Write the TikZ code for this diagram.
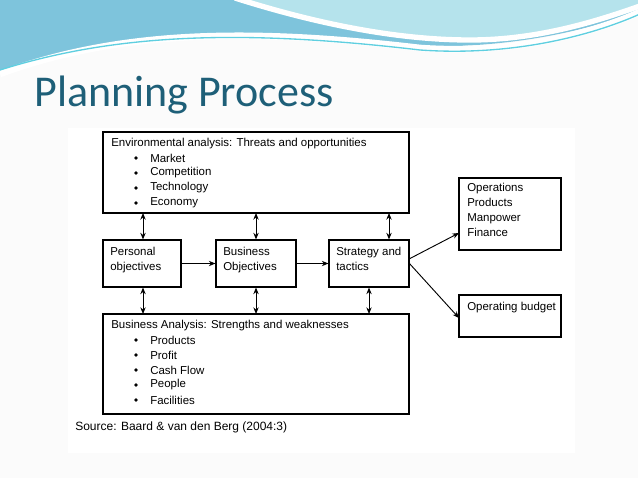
\documentclass[tikz,border=0pt]{standalone}
\usepackage{fontspec}
\setmainfont{Liberation Sans}
\newfontfamily\titlefont{Carlito}
\usetikzlibrary{arrows.meta}
\definecolor{titlec}{HTML}{1E5F78}
\definecolor{waveA}{HTML}{7EC4DC}
\definecolor{waveB}{HTML}{B5E3EC}
\definecolor{waveC}{HTML}{5FCFE0}
\tikzset{
  bx/.style={draw=black, line width=0.8pt, inner sep=0pt},
  lbl/.style={font=\fontsize{8.6pt}{11.2pt}\selectfont, anchor=north west, align=left, inner sep=0pt},
  dbl/.style={{Stealth[length=5pt,width=4pt]}-{Stealth[length=5pt,width=4pt]}, line width=0.7pt},
  sgl/.style={-{Stealth[length=5pt,width=4pt]}, line width=0.7pt}
}
\begin{document}
\begin{tikzpicture}[x=0.75pt,y=-0.75pt]
\useasboundingbox (0,0) rectangle (638,478);
\fill[white!97!gray] (0,0) rectangle (638,478);
% waves
\fill[waveA] (0,0) -- (638,0) -- (638,12) .. controls (560,40) and (480,48) .. (420,46) .. controls (300,40) and (150,20) .. (0,72) -- cycle;
\fill[waveB] (235,0) .. controls (320,25) and (400,40) .. (470,40) .. controls (540,40) and (600,20) .. (638,8) -- (638,0) -- cycle;
\draw[white, line width=4pt] (235,-2) .. controls (320,25) and (400,40) .. (470,40) .. controls (540,40) and (600,20) .. (640,6);
\draw[white, line width=5pt] (0,74) .. controls (120,30) and (250,28) .. (420,48) .. controls (520,55) and (600,30) .. (640,12);
\draw[waveC, line width=1pt] (0,70) .. controls (120,32) and (250,30) .. (420,50) .. controls (520,57) and (600,32) .. (640,14);
\node[anchor=base west, inner sep=0pt, text=titlec, font=\titlefont\fontsize{33pt}{36pt}\selectfont] (title) at (34,106) {Planning Process};
% panel
\fill[white] (68,128) rectangle (575,453);
% boxes
\draw[bx] (103,132) rectangle (409,213);
\node[lbl] (env) at (111,138) {Environmental analysis: Threats and opportunities};
\foreach \t [count=\i] in {Market,Competition,Technology,Economy}{
  \node[lbl, anchor=west] (e\i) at (150,158+15*\i-15) {\t};
  \fill (136,158+15*\i-15) circle (1.8);
}
\node[bx, minimum width=78*0.75pt, minimum height=47*0.75pt] (pers) at (142,263.5) {};
\node[lbl] at (110,247) {Personal\\objectives};
\node[bx, minimum width=80*0.75pt, minimum height=47*0.75pt] (bus) at (256,263.5) {};
\node[lbl] at (223,247) {Business\\Objectives};
\node[bx, minimum width=80*0.75pt, minimum height=47*0.75pt] (str) at (369,263.5) {};
\node[lbl] at (336,247) {Strategy and\\tactics};
\draw[bx] (103,314) rectangle (409,414);
\node[lbl] (ba) at (111,320) {Business Analysis: Strengths and weaknesses};
\foreach \t [count=\i] in {Products,Profit,Cash Flow,People,Facilities}{
  \node[lbl, anchor=west] (b\i) at (150,340+15*\i-15) {\t};
  \fill (136,340+15*\i-15) circle (1.8);
}
\node[bx, minimum width=102*0.75pt, minimum height=72*0.75pt] (ops) at (510,214) {};
\node[lbl] at (467,183) {Operations\\Products\\Manpower\\Finance};
\node[bx, minimum width=102*0.75pt, minimum height=42*0.75pt] (budg) at (510,316) {};
\node[lbl] at (467,302) {Operating budget};
\node[anchor=west, inner sep=0pt, font=\fontsize{9pt}{11pt}\selectfont] (src) at (75,427) {Source: Baard \& van den Berg (2004:3)};
% arrows
\draw[dbl] (143,213) -- (pers.north -| 143,0);
\draw[dbl] (256,213) -- (bus.north);
\draw[dbl] (389,213) -- (str.north -| 389,0);
\draw[dbl] (pers.south -| 143,0) -- (143,314);
\draw[dbl] (bus.south) -- (256,314);
\draw[dbl] (str.south) -- (369,314);
\draw[sgl] (pers.east) -- (bus.west);
\draw[sgl] (bus.east) -- (str.west);
\draw[sgl] (409,259) -- (459,233);
\draw[sgl] (409,263) -- (459,318);
\end{tikzpicture}
\end{document}
